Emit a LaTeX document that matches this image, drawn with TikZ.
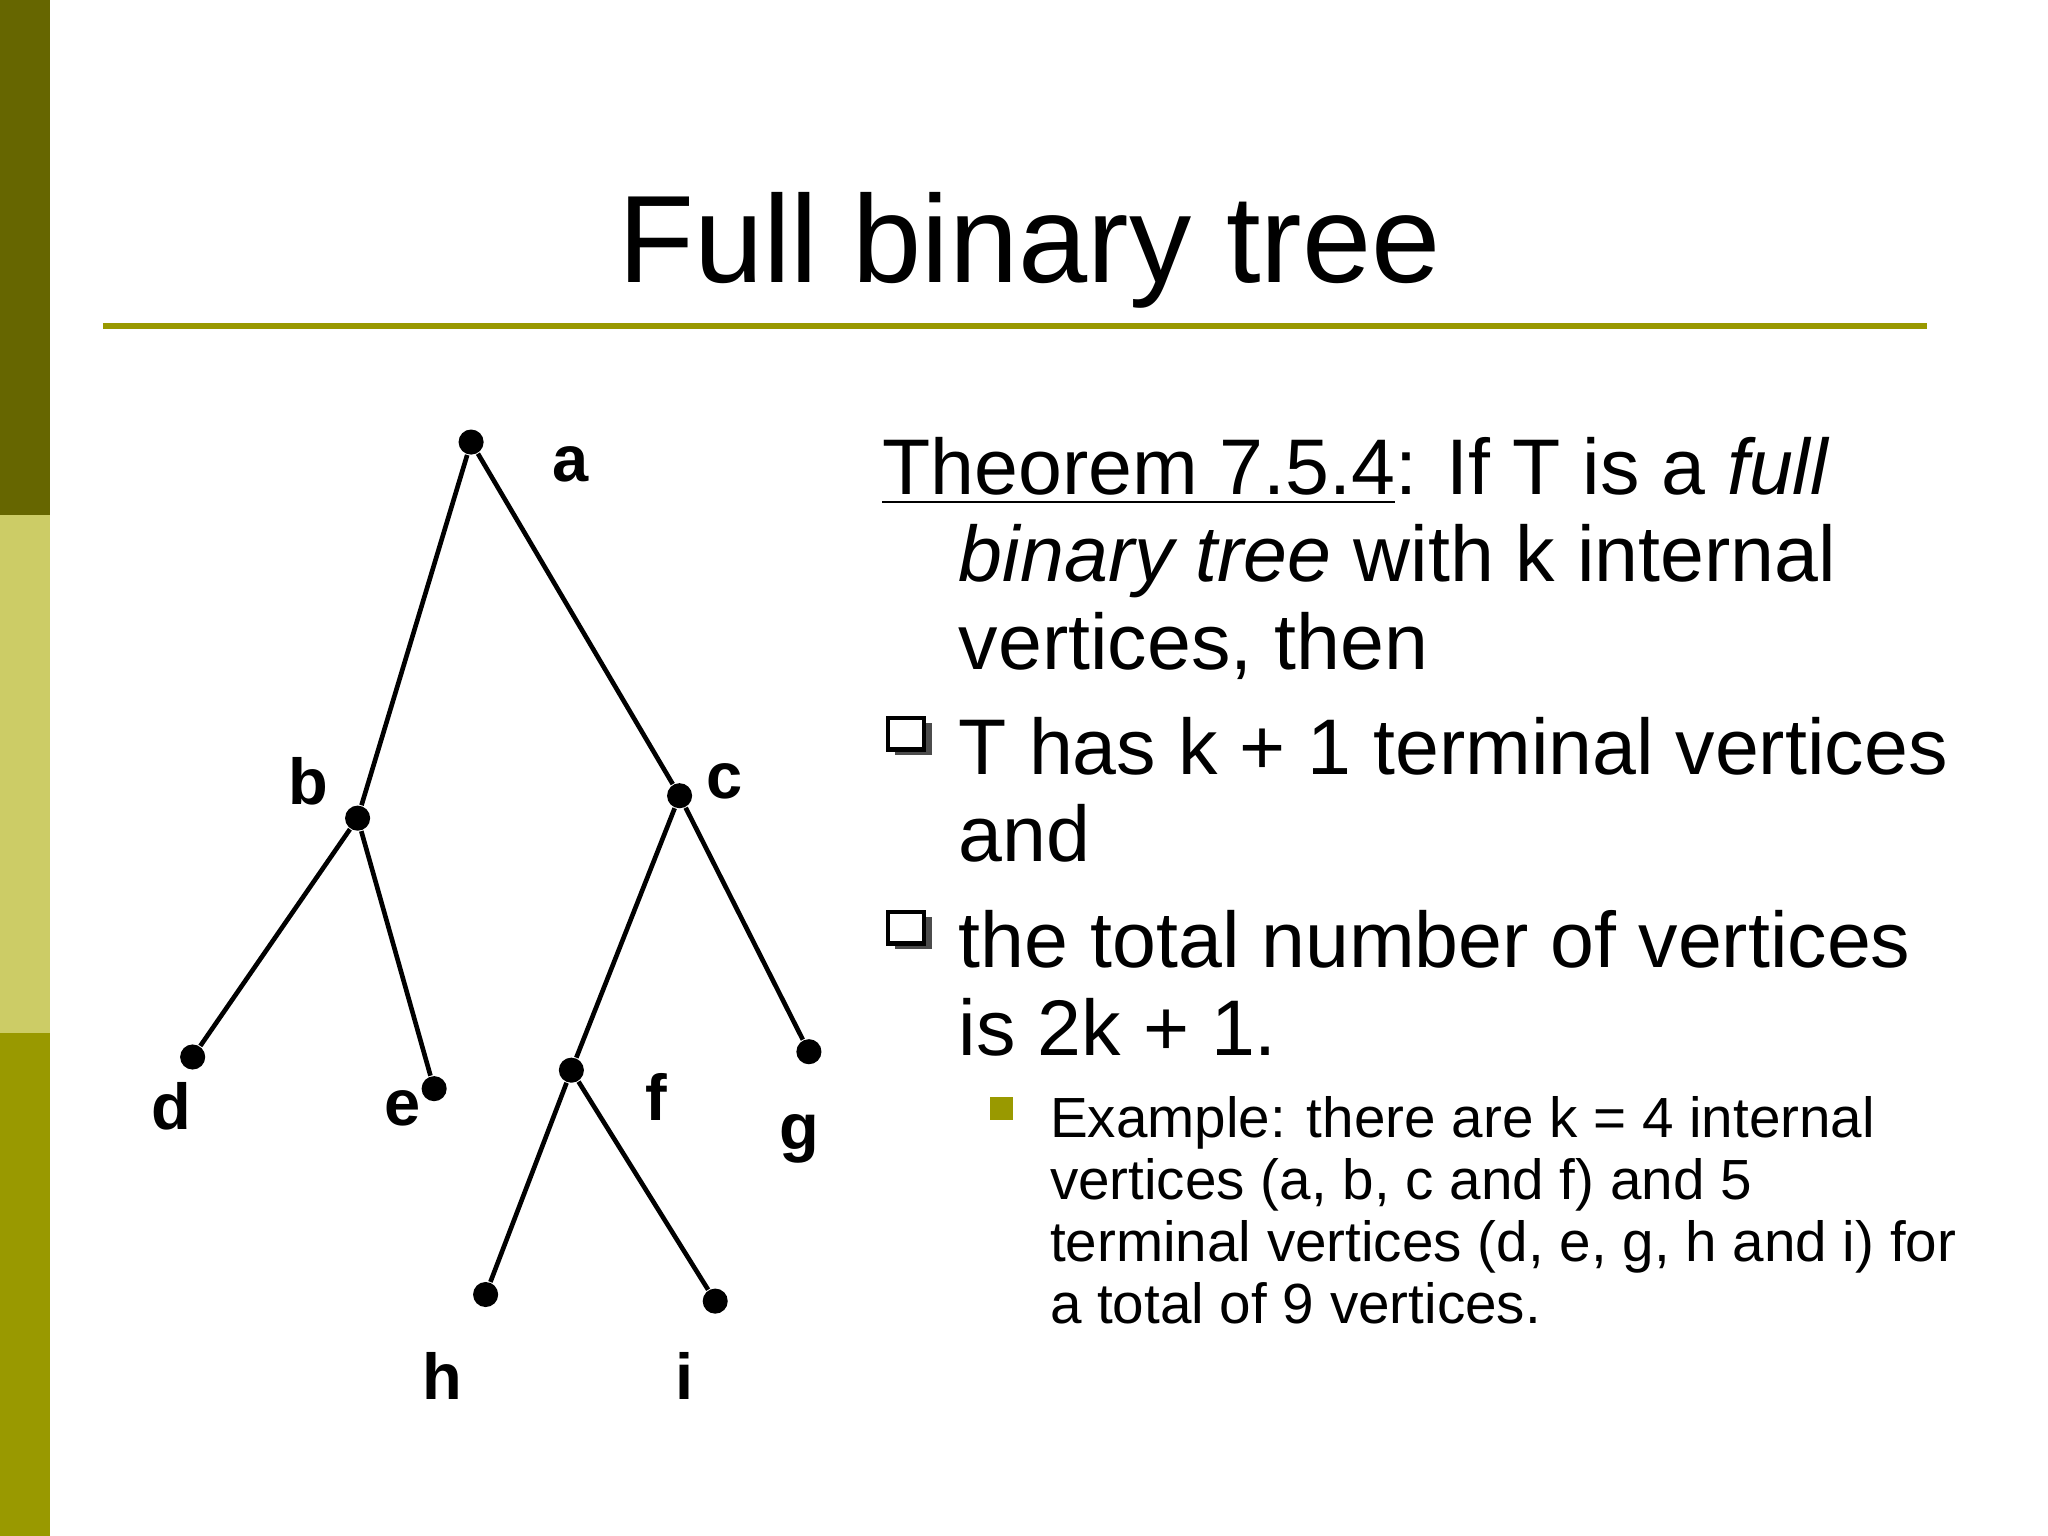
\documentclass[tikz,border=0pt]{standalone}
\usepackage{fontspec}
\setmainfont{Liberation Sans}
\definecolor{oliveA}{HTML}{666600}
\definecolor{oliveB}{HTML}{CCCC66}
\definecolor{oliveC}{HTML}{999900}
\tikzset{
 vtx/.style={circle,fill=black,inner sep=0pt,minimum size=0.19cm},
 lbl/.style={font=\fontsize{14}{15}\selectfont\bfseries},
 big/.style={anchor=base west,inner sep=0pt,font=\fontsize{17}{19}\selectfont},
 small/.style={anchor=base west,inner sep=0pt,font=\fontsize{12.2}{14}\selectfont},
 edge/.style={line width=1pt}
}
\begin{document}
\begin{tikzpicture}[x=0.01cm,y=-0.01cm]
\useasboundingbox (0,0) rectangle (1552,1164);
\fill[white] (0,0) rectangle (1552,1164);
\fill[oliveA] (0,0) rectangle (38,390);
\fill[oliveB] (0,390) rectangle (38,783);
\fill[oliveC] (0,783) rectangle (38,1164);
\node[font=\fontsize{26.8}{30}\selectfont] (title) at (780,190) {Full binary tree};
\draw[oliveC,line width=1.2pt] (78,247) -- (1460,247);
% tree
\node[vtx] (a) at (357,335) {};
\node[vtx] (b) at (271,620) {};
\node[vtx] (c) at (515,603) {};
\node[vtx] (d) at (146,801) {};
\node[vtx] (e) at (329,825) {};
\node[vtx] (f) at (433,811) {};
\node[vtx] (g) at (613,797) {};
\node[vtx] (h) at (368,981) {};
\node[vtx] (i) at (542,986) {};
\draw[edge] (a)--(b) (a)--(c) (b)--(d) (b)--(e) (c)--(f) (c)--(g) (f)--(h) (f)--(i);
\node[lbl] (la) at (432,352) {a};
\node[lbl] (lb) at (234,592) {b};
\node[lbl] (lc) at (549,592) {c};
\node[lbl] (ld) at (130,838) {d};
\node[lbl] (le) at (305,840) {e};
\node[lbl] (lf) at (497,831) {f};
\node[lbl] (lg) at (606,863) {g};
\node[lbl] (lh) at (335,1043) {h};
\node[lbl] (li) at (519,1043) {i};
% text
\node[big] (t1) at (668,375) {\underline{Theorem 7.5.4}: If T is a \textit{full}};
\node[big] (t2) at (726,441) {\textit{binary tree} with k internal};
\node[big] (t3) at (726,507) {vertices, then};
\node[big] (t4) at (726,587) {T has k + 1 terminal vertices};
\node[big] (t5) at (726,653) {and};
\node[big] (t6) at (726,733) {the total number of vertices};
\node[big] (t7) at (726,800) {is 2k + 1.};
\foreach \yy in {556,703}{
 \fill[black!70] (678,\yy-8) rectangle (706,\yy+16);
 \draw[black,line width=0.9pt,fill=white] (673,\yy-12) rectangle (700,\yy+12);
}
\fill[oliveC] (750,831) rectangle (768,849);
\node[small] (s1) at (795,862) {Example: there are k = 4 internal};
\node[small] (s2) at (795,909) {vertices (a, b, c and f) and 5};
\node[small] (s3) at (795,956) {terminal vertices (d, e, g, h and i) for};
\node[small] (s4) at (795,1003) {a total of 9 vertices.};
\end{tikzpicture}
\end{document}
